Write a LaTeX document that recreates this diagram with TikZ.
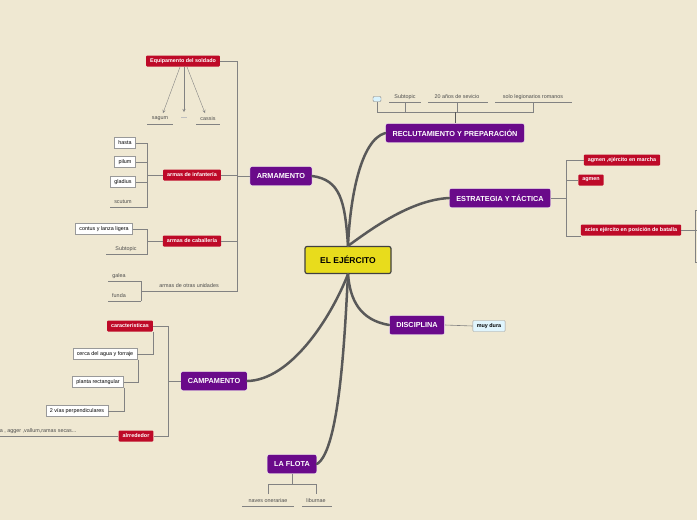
\documentclass[tikz,border=0pt]{standalone}
\usepackage{fontspec}
\setmainfont{Liberation Sans}
\definecolor{bgc}{RGB}{239,232,210}
\definecolor{yel}{RGB}{232,220,28}
\definecolor{pur}{RGB}{106,10,138}
\definecolor{rd}{RGB}{190,10,40}
\begin{document}
\begin{tikzpicture}[x=1pt,y=-1pt,
 font=\bfseries,
 main/.style={draw=black!75,line width=1.2pt,fill=yel,rounded corners=2pt,minimum width=86pt,minimum height=27pt,font=\bfseries\fontsize{8.5}{9}\selectfont},
 topic/.style={draw=white,fill=pur,text=white,rounded corners=2pt,minimum height=19pt,inner xsep=7pt,font=\bfseries\fontsize{7.3}{8}\selectfont},
 red/.style={fill=rd,text=white,rounded corners=1pt,minimum height=11pt,inner xsep=4pt,inner ysep=0pt,font=\bfseries\fontsize{5.4}{6}\selectfont},
 wbox/.style={draw=gray!80,fill=white,minimum height=11pt,inner xsep=4pt,inner ysep=0pt,font=\mdseries\fontsize{5.4}{6}\selectfont},
 plain/.style={inner sep=1pt,font=\mdseries\fontsize{5.4}{6}\selectfont,text=black!70},
 br/.style={draw=gray!60!black!70,line width=0.6pt},
 thick/.style={draw=black!65,line width=2.5pt,line cap=round}]
\fill[bgc] (0,0) rectangle (697,520);
\useasboundingbox (0,0) rectangle (697,520);
% main & topics
\node[main] (m) at (348,260) {EL EJÉRCITO};
\node[topic] (arm) at (281,176) {ARMAMENTO};
\node[topic] (rec) at (455,133) {RECLUTAMIENTO Y PREPARACIÓN};
\node[topic] (est) at (500,198) {ESTRATEGIA Y TÁCTICA};
\node[topic] (dis) at (417,325) {DISCIPLINA};
\node[topic] (cam) at (214,381) {CAMPAMENTO};
\node[topic] (flo) at (292,464) {LA FLOTA};
\draw[thick] (m.north) .. controls (345,200) and (340,180) .. (arm.east);
\draw[thick] (m.north) .. controls (350,200) and (360,140) .. (rec.west);
\draw[thick] (m.north) .. controls (370,230) and (410,200) .. (est.west);
\draw[thick] (m.south) .. controls (350,300) and (360,320) .. (dis.west);
\draw[thick] (m.south) .. controls (330,320) and (290,380) .. (cam.east);
\draw[thick] (m.south) .. controls (345,330) and (340,450) .. (flo.east);
% ARMAMENTO
\node[red] (eq) at (183,61) {Equipamento del soldado};
\node[red] (inf) at (192,175) {armas de infantería};
\node[red] (cab) at (192,241) {armas de caballería};
\node[plain] (otr) at (189,286) {armas de otras unidades};
\draw[br] (arm.west) -- (237,176);
\draw[br] (eq.east) -| (237,291) -- (141,291);
\draw[br] (inf.east) -- (237,175);
\draw[br] (cab.east) -- (237,241);
\node[plain] (sag) at (160,119) {sagum};
\node[plain] (cas) at (208,119) {cassis};
\draw[br,->,>=stealth,line width=0.4pt] (180,67) -- (163,113);
\draw[br,->,>=stealth,line width=0.4pt] (184,67) -- (184,112);
\draw[br,->,>=stealth,line width=0.4pt] (187,67) -- (205,113);
\draw[gray!50,line width=0.8pt] (181,117) -- (187,117);
\draw[br] (147,124) -- (173,124) (196,124) -- (220,124);
\node[wbox] (has) at (125,143) {hasta};
\node[wbox] (pil) at (125,162) {pilum};
\node[wbox] (gla) at (123,182) {gladius};
\node[plain] (scu) at (123,202) {scutum};
\draw[br] (inf.west) -- (147,175);
\draw[br] (has.east) -| (147,207) -- (110,207);
\draw[br] (pil.east) -- (147,162) (gla.east) -- (147,182);
\node[wbox] (con) at (104,229) {contus y lanza ligera};
\node[plain] (sub1) at (126,249) {Subtopic};
\draw[br] (cab.west) -- (147,241);
\draw[br] (con.east) -| (147,254) -- (106,254);
\node[plain] (gal) at (119,276) {galea};
\node[plain] (fun) at (119,296) {funda};
\draw[br] (108,281) -- (141,281) (108,301) -- (141,301);
\draw[br] (141,281) -- (141,301);
% RECLUTAMIENTO
\node[draw=gray,fill=cyan!15,minimum width=8pt,minimum height=5pt,inner sep=0pt,rounded corners=1pt] (emp) at (377,99) {};
\node[plain] (s2) at (405,97) {Subtopic};
\node[plain] (s3) at (457,97) {20 años de sevicio};
\node[plain] (s4) at (533,97) {solo legionarios romanos};
\draw[br] (389,102) -- (421,102) (428,102) -- (488,102) (495,102) -- (572,102);
\draw[br] (emp.south) -- (377,112) -- (533,112) -- (533,102);
\draw[br] (405,102) -- (405,112) (457,102) -- (457,112);
\draw[black!65,line width=0.8pt] (455,112) -- (rec.north);
% ESTRATEGIA
\node[red] (ag1) at (622,160) {agmen ,ejército en marcha};
\node[red] (ag2) at (591,180) {agmen};
\node[red] (aci) at (631,230) {acies ejército en posición de batalla};
\draw[br] (est.east) -- (566,198);
\draw[br] (ag1.west) -| (566,236) -- (aci.west |- 0,236);
\draw[br] (ag2.west) -- (566,180);
\draw[br] (aci.east) -- (697,230);
\draw[br] (697,210) -- (695,210) -- (695,262) -- (697,262);
% DISCIPLINA
\node[wbox,fill=cyan!12,font=\bfseries\fontsize{5.4}{6}\selectfont,rounded corners=1pt] (dur) at (489,326) {muy dura};
\draw[br] (dis.east) -- (dur.west);
% CAMPAMENTO
\node[red] (car) at (130,326) {caracteristicas};
\node[red] (alr) at (136,436) {alrrededor};
\node[wbox] (cer) at (105,354) {cerca del agua y forraje};
\node[wbox] (pla) at (98,382) {planta rectangular};
\node[wbox] (vias) at (77,411) {2 vías perpendiculares};
\node[plain,anchor=west] (sec) at (-4,431) {sa , agger ,vallum,ramas secas...};
\draw[br] (cam.west) -- (168,381);
\draw[br] (car.east) -| (168,436) -- (alr.east);
\draw[br] (car.south) ++(23,0) |- (cer.east);
\draw[br] (cer.south) ++(33,0) |- (pla.east);
\draw[br] (pla.south) ++(26,0) |- (vias.east);
\draw[br] (alr.west) -- (0,436);
% FLOTA
\node[plain] (nav) at (268,501) {naves onerariae};
\node[plain] (lib) at (316,501) {liburnae};
\draw[br] (flo.south) -- (292,484);
\draw[br] (268,494) -- (268,484) -- (316,484) -- (316,494);
\draw[br] (242,506) -- (294,506) (302,506) -- (332,506);
\end{tikzpicture}
\end{document}
